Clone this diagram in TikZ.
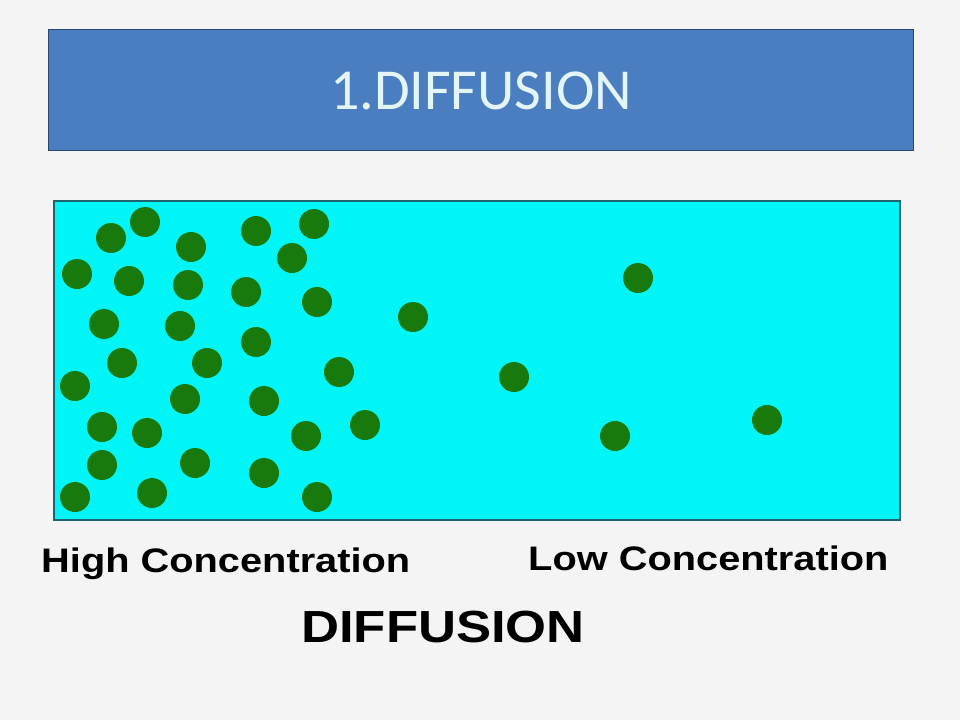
\documentclass[tikz,border=0pt]{standalone}
\usepackage{fontspec}
\setmainfont{Liberation Sans}
\newfontfamily\titlefont{Carlito}
\definecolor{bgc}{RGB}{244,244,244}
\definecolor{titlefill}{RGB}{74,126,192}
\definecolor{titleedge}{RGB}{40,70,110}
\definecolor{titletext}{RGB}{228,245,250}
\definecolor{tank}{RGB}{0,246,246}
\definecolor{tankedge}{RGB}{30,100,110}
\definecolor{dotc}{RGB}{24,122,12}
\tikzset{
  particle/.style={circle,fill=dotc,draw=none,minimum size=30pt,inner sep=0pt},
  lbl/.style={font=\fontsize{34}{36}\selectfont\bfseries,anchor=base west,inner sep=0pt,xscale=1.17},
}
\begin{document}
\begin{tikzpicture}[x=1pt,y=-1pt]
\useasboundingbox (0,0) rectangle (960,720);
\fill[bgc] (0,0) rectangle (960,720);
\node[draw=titleedge,line width=1.2pt,fill=titlefill,minimum width=865pt,minimum height=121pt,anchor=north west,inner sep=0pt] (title) at (48,29) {};
\node[anchor=base,inner sep=0pt,text=titletext,font=\titlefont\fontsize{58}{60}\selectfont] (titletext) at (481,109) {1.DIFFUSION};
\node[draw=tankedge,line width=2pt,fill=tank,minimum width=846pt,minimum height=319pt,anchor=north west,inner sep=0pt] (tank) at (53,200) {};
\foreach \i/\x/\y in {1/145/222,2/111/238,3/191/247,4/256/231,5/314/224,6/292/258,7/77/274,8/129/281,9/188/285,10/246/292,11/317/302,12/413/317,13/104/324,14/180/326,15/256/342,16/122/363,17/207/363,18/339/372,19/75/386,20/185/399,21/264/401,22/102/427,23/147/433,24/306/436,25/365/425,26/102/465,27/195/463,28/264/473,29/75/497,30/152/493,31/317/497,32/514/377,33/638/278,34/615/436,35/767/420}
  \node[particle] (p\i) at (\x,\y) {};
\node[lbl] (high) at (41,572) {High Concentration};
\node[lbl] (low) at (528,570) {Low Concentration};
\node[font=\fontsize{45}{48}\selectfont\bfseries,anchor=base west,inner sep=0pt,xscale=1.17] (diff) at (301,642) {DIFFUSION};
\end{tikzpicture}
\end{document}
